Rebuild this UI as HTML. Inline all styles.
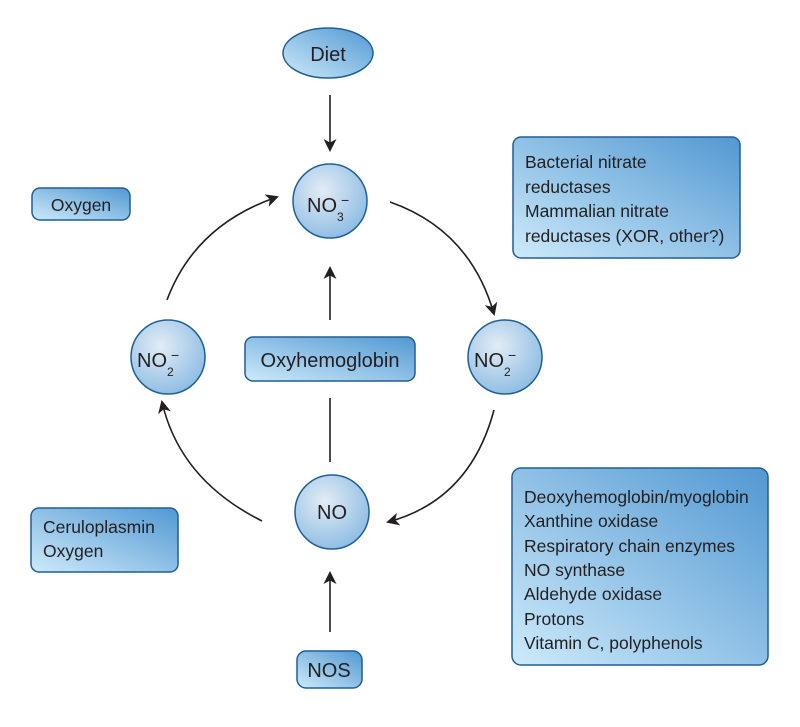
<!DOCTYPE html>
<html><head><meta charset="utf-8"><style>
html,body{margin:0;padding:0;background:#fff;}
svg{display:block;}
text{font-family:"Liberation Sans",sans-serif;fill:#231f20;}
</style></head><body>
<svg width="800" height="727" viewBox="0 0 800 727" xmlns="http://www.w3.org/2000/svg">
<defs>
<linearGradient id="g" x1="0" y1="1" x2="1" y2="0">
<stop offset="0" stop-color="#cdeafa"/><stop offset="1" stop-color="#5298d2"/>
</linearGradient>
<radialGradient id="c" cx="0.4" cy="0.35" r="0.75">
<stop offset="0" stop-color="#e2ecf5"/><stop offset="1" stop-color="#86b8e2"/>
</radialGradient>
<marker id="a" markerWidth="13" markerHeight="13" refX="11" refY="6.5" orient="auto" markerUnits="userSpaceOnUse">
<path d="M0,0 L13,6.5 L0,13 L3.5,6.5 Z" fill="#231f20"/>
</marker>
</defs>
<g stroke="#1f5f96" stroke-width="1.5">
<ellipse cx="328" cy="53" rx="45" ry="25" fill="url(#g)"/>
<circle cx="330" cy="201" r="37" fill="url(#c)"/>
<circle cx="168" cy="357" r="37" fill="url(#c)"/>
<circle cx="505" cy="357" r="37" fill="url(#c)"/>
<circle cx="332" cy="512" r="37" fill="url(#c)"/>
<rect x="245" y="337" width="170" height="44" rx="8" fill="url(#g)"/>
<rect x="297" y="651" width="65" height="37" rx="9" fill="url(#g)"/>
<rect x="32" y="188" width="98" height="32" rx="8" fill="url(#g)"/>
<rect x="31" y="508" width="147" height="64" rx="8" fill="url(#g)"/>
<rect x="513" y="137" width="227" height="121" rx="8" fill="url(#g)"/>
<rect x="512" y="468" width="256" height="197" rx="9" fill="url(#g)"/>
</g>
<g stroke="#231f20" stroke-width="1.6" fill="none">
<line x1="330" y1="95" x2="330" y2="150" marker-end="url(#a)"/>
<line x1="330" y1="320" x2="330" y2="268" marker-end="url(#a)"/>
<line x1="330" y1="398" x2="330" y2="462"/>
<line x1="330" y1="632" x2="330" y2="573" marker-end="url(#a)"/>
<path d="M167,300 Q195,225 277,197" marker-end="url(#a)"/>
<path d="M390,202 Q470,230 494,314" marker-end="url(#a)"/>
<path d="M494,410 Q470,500 388,522" marker-end="url(#a)"/>
<path d="M262,521 Q180,480 162,402" marker-end="url(#a)"/>
</g>
<text x="328" y="61" font-size="20" text-anchor="middle">Diet</text>
<text x="307" y="212" font-size="20">NO</text><text x="337" y="221" font-size="12">3</text><text x="341" y="205" font-size="14">−</text>
<text x="137" y="367" font-size="20">NO</text><text x="167" y="376" font-size="12">2</text><text x="171" y="360" font-size="14">−</text>
<text x="474" y="367" font-size="20">NO</text><text x="504" y="376" font-size="12">2</text><text x="508" y="360" font-size="14">−</text>
<text x="332" y="519" font-size="20" text-anchor="middle">NO</text>
<text x="330" y="367" font-size="20" text-anchor="middle">Oxyhemoglobin</text>
<text x="329" y="677" font-size="20" text-anchor="middle">NOS</text>
<text x="81" y="211" font-size="17.5" text-anchor="middle">Oxygen</text>
<text x="43" y="533" font-size="17.5">Ceruloplasmin</text>
<text x="43" y="557" font-size="17.5">Oxygen</text>
<g font-size="17.5">
<text x="525" y="168">Bacterial nitrate</text>
<text x="525" y="193">reductases</text>
<text x="525" y="217">Mammalian nitrate</text>
<text x="525" y="242">reductases (XOR, other?)</text>
</g>
<g font-size="17.5">
<text x="524" y="503">Deoxyhemoglobin/myoglobin</text>
<text x="524" y="527">Xanthine oxidase</text>
<text x="524" y="552">Respiratory chain enzymes</text>
<text x="524" y="576">NO synthase</text>
<text x="524" y="600">Aldehyde oxidase</text>
<text x="524" y="625">Protons</text>
<text x="524" y="649">Vitamin C, polyphenols</text>
</g>
</svg>
</body></html>
